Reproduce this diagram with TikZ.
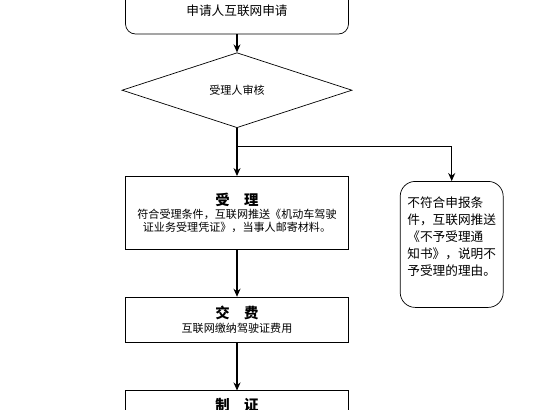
\documentclass[tikz,border=0pt]{standalone}
\usepackage{fontspec}
\usepackage{tikz}
\usetikzlibrary{arrows.meta, positioning, shapes.geometric}
\newfontfamily\cjk{Noto Sans CJK SC}
\newcommand{\steptitle}[2]{{\fontsize{8.2}{11}\selectfont\bfseries #1\quad #2}}

\begin{document}
\begin{tikzpicture}[font=\cjk\fontsize{6.3}{7.6}\selectfont, node distance=0.95cm,
    b/.style={draw, minimum width=4.46cm, align=center, inner sep=2pt},
    rb/.style={draw, rounded corners=0.3cm, minimum width=2.06cm, minimum height=2.52cm, align=left, font=\cjk\fontsize{7.2}{9.6}\selectfont},
    dm/.style={draw, diamond, inner sep=0pt, minimum width=4.6cm, minimum height=1.5cm},
    arr/.style={-{Stealth[length=1.6mm, width=1.4mm]}, line width=0.6pt}]
    \fill[white] (0,0) rectangle (10.94,-8.2);
    \clip (0,0) rectangle (10.94,-8.2);
    \node[b, rounded corners=0.2cm, minimum height=0.92cm, font=\cjk\fontsize{7.2}{9}\selectfont] (app) at (4.74,-0.22) {申请人互联网申请};
    \node[dm, below=0.36cm of app] (chk) {受理人审核};
    \node[b, below=0.96cm of chk, minimum height=1.46cm] (acc) {\steptitle{受}{理}\\符合受理条件，互联网推送《机动车驾驶\\证业务受理凭证》，当事人邮寄材料。};
    \node[b, below=0.94cm of acc, minimum height=0.9cm] (fee) {\steptitle{交}{费}\\互联网缴纳驾驶证费用};
    \node[b, below=0.96cm of fee, minimum height=0.56cm] (cert) {\steptitle{制}{证}};
    \node[rb, below right=0.1cm and 1.02cm of acc.north east] (rej) {不符合申报条\\件，互联网推送\\《不予受理通\\知书》，说明不\\予受理的理由。\\ \mbox{}};
    \coordinate (br) at ([yshift=-0.36cm]chk.south);
    \draw[arr] (app) -- (chk);
    \draw[arr] (chk) -- (acc);
    \draw[arr] (br) -| (rej);
    \draw[arr] (acc) -- (fee);
    \draw[arr] (fee) -- (cert);
\end{tikzpicture}
\end{document}
